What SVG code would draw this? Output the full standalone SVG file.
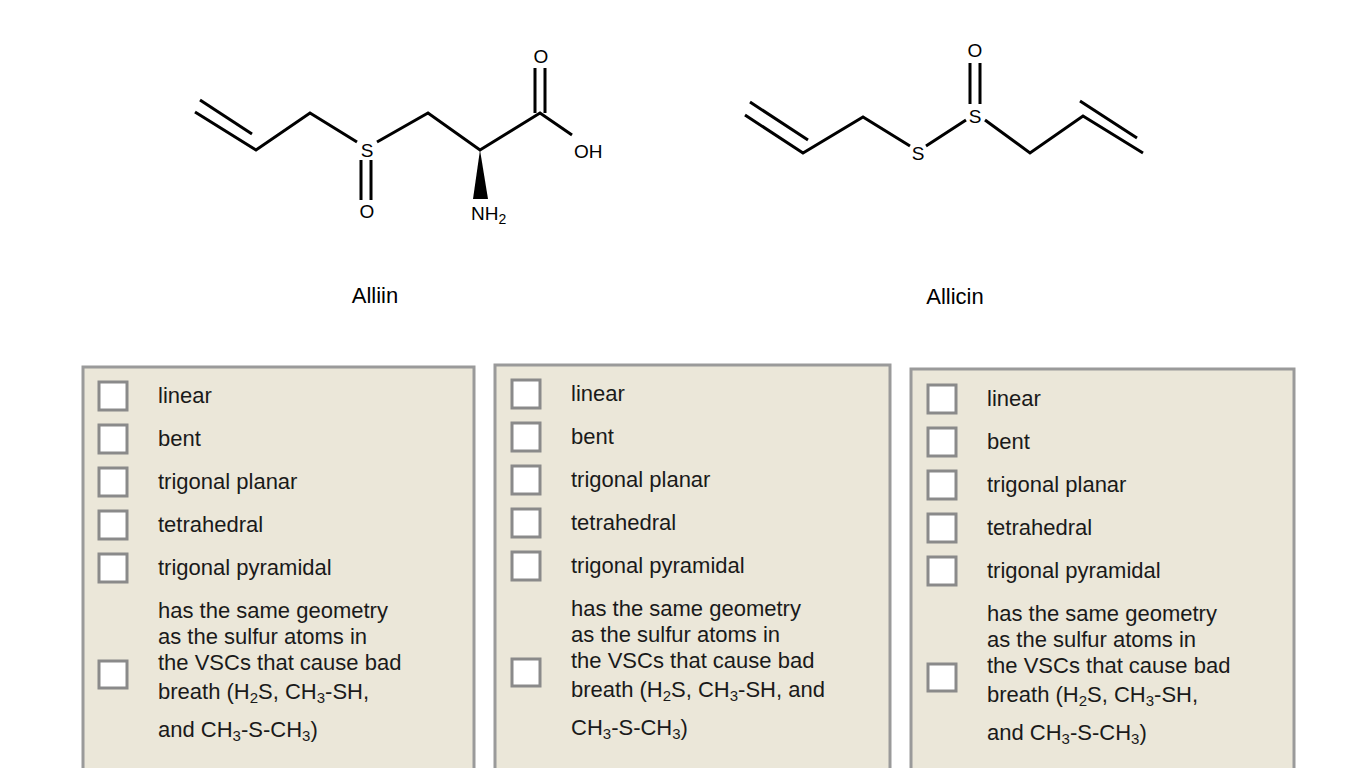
<svg xmlns="http://www.w3.org/2000/svg" width="1364" height="768" viewBox="0 0 1364 768">
<style>
.b{stroke:#000;stroke-width:3;fill:none;stroke-linecap:butt}
.a{font-family:"Liberation Sans",Arial,sans-serif;font-size:19px;fill:#000}
.t{font-family:"Liberation Sans",Arial,sans-serif;font-size:22px;fill:#1a1a1a}
.box{fill:#ebe7d9;stroke:#9a9a9a;stroke-width:3}
.cb{fill:#fff;stroke:#8a8a8a;stroke-width:3}
.lbl{font-family:"Liberation Sans",Arial,sans-serif;font-size:22px;fill:#000}
</style>
<rect width="1364" height="768" fill="#fff"/>
<g id="alliin">
<path class="b" d="M195,112 L256,150 L310,113 L357,142 M377,142 L428,113 L480,150 L540,113 L572,135"/>
<path class="b" d="M200,100 L252,134"/>
<path class="b" d="M361,160 V200 M371,160 V200"/>
<path class="b" d="M535,113 V68 M545,113 V68"/>
<polygon points="480,150 473,199 488,199" fill="#000"/>
<text class="a" x="367" y="157" text-anchor="middle">S</text>
<text class="a" x="367" y="218" text-anchor="middle">O</text>
<text class="a" x="541" y="63" text-anchor="middle">O</text>
<text class="a" x="574" y="158">OH</text>
<text class="a" x="471" y="220">NH<tspan font-size="14" dy="4">2</tspan></text>
</g>
<g id="allicin">
<path class="b" d="M745,115 L803,153 L863,117 L910,146 M926,146 L966,120 M985,120 L1030,153 L1083,116 L1143,153"/>
<path class="b" d="M750,102 L808,140 M1080,101 L1137,138"/>
<path class="b" d="M970,104 V63 M980,104 V63"/>
<text class="a" x="918" y="160" text-anchor="middle">S</text>
<text class="a" x="975" y="123" text-anchor="middle">S</text>
<text class="a" x="975" y="57" text-anchor="middle">O</text>
</g>
<text class="lbl" x="375" y="303" text-anchor="middle">Alliin</text>
<text class="lbl" x="955" y="304" text-anchor="middle">Allicin</text>
<g id="box1">
<rect class="box" x="83" y="367" width="391" height="405"/>
<rect class="cb" x="99" y="382" width="28" height="28"/>
<rect class="cb" x="99" y="425" width="28" height="28"/>
<rect class="cb" x="99" y="468" width="28" height="28"/>
<rect class="cb" x="99" y="511" width="28" height="28"/>
<rect class="cb" x="99" y="554" width="28" height="28"/>
<rect class="cb" x="99" y="661" width="28" height="27"/>
<text class="t" x="158" y="403">linear</text>
<text class="t" x="158" y="446">bent</text>
<text class="t" x="158" y="489">trigonal planar</text>
<text class="t" x="158" y="532">tetrahedral</text>
<text class="t" x="158" y="575">trigonal pyramidal</text>
<text class="t" x="158" y="618">has the same geometry</text>
<text class="t" x="158" y="644">as the sulfur atoms in</text>
<text class="t" x="158" y="670">the VSCs that cause bad</text>
<text class="t" x="158" y="699">breath (H<tspan font-size="15" dy="4">2</tspan><tspan dy="-4">S, CH</tspan><tspan font-size="15" dy="4">3</tspan><tspan dy="-4">-SH,</tspan></text>
<text class="t" x="158" y="737">and CH<tspan font-size="15" dy="4">3</tspan><tspan dy="-4">-S-CH</tspan><tspan font-size="15" dy="4">3</tspan><tspan dy="-4">)</tspan></text>
</g>
<g id="box2">
<rect class="box" x="495" y="365" width="395" height="407"/>
<rect class="cb" x="512" y="380" width="28" height="28"/>
<rect class="cb" x="512" y="423" width="28" height="28"/>
<rect class="cb" x="512" y="466" width="28" height="28"/>
<rect class="cb" x="512" y="509" width="28" height="28"/>
<rect class="cb" x="512" y="552" width="28" height="28"/>
<rect class="cb" x="512" y="659" width="28" height="27"/>
<text class="t" x="571" y="401">linear</text>
<text class="t" x="571" y="444">bent</text>
<text class="t" x="571" y="487">trigonal planar</text>
<text class="t" x="571" y="530">tetrahedral</text>
<text class="t" x="571" y="573">trigonal pyramidal</text>
<text class="t" x="571" y="616">has the same geometry</text>
<text class="t" x="571" y="642">as the sulfur atoms in</text>
<text class="t" x="571" y="668">the VSCs that cause bad</text>
<text class="t" x="571" y="697">breath (H<tspan font-size="15" dy="4">2</tspan><tspan dy="-4">S, CH</tspan><tspan font-size="15" dy="4">3</tspan><tspan dy="-4">-SH, and</tspan></text>
<text class="t" x="571" y="735">CH<tspan font-size="15" dy="4">3</tspan><tspan dy="-4">-S-CH</tspan><tspan font-size="15" dy="4">3</tspan><tspan dy="-4">)</tspan></text>
</g>
<g id="box3">
<rect class="box" x="911" y="369" width="383" height="403"/>
<rect class="cb" x="928" y="385" width="28" height="28"/>
<rect class="cb" x="928" y="428" width="28" height="28"/>
<rect class="cb" x="928" y="471" width="28" height="28"/>
<rect class="cb" x="928" y="514" width="28" height="28"/>
<rect class="cb" x="928" y="557" width="28" height="28"/>
<rect class="cb" x="928" y="664" width="28" height="27"/>
<text class="t" x="987" y="406">linear</text>
<text class="t" x="987" y="449">bent</text>
<text class="t" x="987" y="492">trigonal planar</text>
<text class="t" x="987" y="535">tetrahedral</text>
<text class="t" x="987" y="578">trigonal pyramidal</text>
<text class="t" x="987" y="621">has the same geometry</text>
<text class="t" x="987" y="647">as the sulfur atoms in</text>
<text class="t" x="987" y="673">the VSCs that cause bad</text>
<text class="t" x="987" y="702">breath (H<tspan font-size="15" dy="4">2</tspan><tspan dy="-4">S, CH</tspan><tspan font-size="15" dy="4">3</tspan><tspan dy="-4">-SH,</tspan></text>
<text class="t" x="987" y="740">and CH<tspan font-size="15" dy="4">3</tspan><tspan dy="-4">-S-CH</tspan><tspan font-size="15" dy="4">3</tspan><tspan dy="-4">)</tspan></text>
</g>
</svg>
